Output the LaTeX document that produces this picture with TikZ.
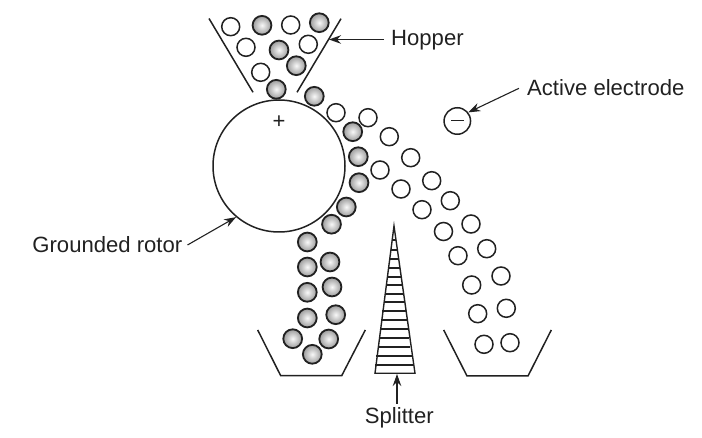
\documentclass[tikz,border=0pt]{standalone}
\usepackage{fontspec}
\setmainfont{Liberation Sans}
\usetikzlibrary{arrows.meta}
\definecolor{ink}{gray}{0.13}
\tikzset{
  x=1pt,y=-1pt,
  wall/.style={draw=ink,line width=1.5pt,line join=miter},
  wball/.style={circle,draw=ink,line width=1.5pt,fill=white,minimum size=18pt,inner sep=0pt},
  gball/.style={circle,draw=ink,line width=1.8pt,inner color=gray!5,outer color=gray!78,minimum size=18.8pt,inner sep=0pt},
  lab/.style={font=\fontsize{22.1pt}{24pt}\selectfont,text=ink,inner sep=0pt},
  pointer/.style={draw=ink,line width=1.1pt,-{Stealth[length=12pt,width=8.5pt]}},
}
\begin{document}
\begin{tikzpicture}
\useasboundingbox (0,0) rectangle (702,438);
% rotor
\node[circle,draw=ink,line width=1.5pt,minimum size=132pt,inner sep=0pt] (rotor) at (279,166) {};
\node[font=\fontsize{22pt}{24pt}\selectfont,text=ink,inner sep=0pt] (plus) at (279,122.5) {+};
% hopper
\draw[wall] (209,18.5) -- (253,92.3);
\draw[wall] (341,18.7) -- (297,92.3);
\coordinate (hopwall) at (329,39.5);
% bins
\draw[wall] (257.7,330) -- (280.7,375.7) -- (341.7,375.7) -- (365.3,330);
\draw[wall] (443.7,330) -- (467,376) -- (528,376) -- (551.3,330);
% splitter
\draw[draw=ink,line width=1.4pt,line join=miter] (394,226) -- (375,373.3) -- (415,373.3) -- cycle;
\foreach \yy in {240,250,259,268,277,285,294,302,311,320,329,338,347,356,365}{
  \pgfmathsetmacro{\hw}{(\yy-226)*20/147.3}
  \draw[draw=ink,line width=1.4pt] (394-\hw,\yy) -- (394+\hw,\yy);
}
\coordinate (splitbase) at (397,374);
% white balls
\foreach \px/\py [count=\i] in {230.7/26.7,290.7/25,246/47.3,308.3/44.3,260.7/72.3,336/112.7,368/117.7,389.3/136.7,410.7/157.7,380/170,431.7/180.7,401/189,450.3/200.7,422/209.7,471/224,443.5/231.5,486.7/248.7,458/255.7,501/276,471.7/285,506.3/308.3,477.7/313.7,484/344.3,510/342.7}{
  \node[wball] (w\i) at (\px,\py) {};
}
% grey balls
\foreach \px/\py [count=\i] in {262/25.3,319.3/22.7,279/50,296.3/65.7,276.3/89.3,314.3/96.3,352.7/131.7,358.3/156.7,359/182.7,346.3/207,331.5/224.2,307.3/242,307.3/267,330/262,307.3/292.3,332/287,307.3/318,335.7/314.7,292.7/338.7,328.7/339,312.3/354.3}{
  \node[gball] (g\i) at (\px,\py) {};
}
% electrode
\node[circle,draw=ink,line width=1.5pt,minimum size=26.5pt,inner sep=0pt] (electrode) at (457.3,121) {};
\draw[draw=ink,line width=1pt] (451,121) -- (463.5,121);
% labels
\node[lab,anchor=west] (hopper) at (391,40.5) {Hopper};
\node[lab,anchor=west] (active) at (527,88) {Active electrode};
\node[lab,anchor=east] (grounded) at (182.5,245) {Grounded rotor};
\node[lab] (splitter) at (399.3,417.5) {Splitter};
% pointers
\draw[pointer] (hopper.west)+(-7,-1) -- (hopwall);
\draw[pointer] (active.west)+(-8,0.3) -- (electrode.38);
\draw[pointer] (grounded.east)+(5,0) -- (rotor.230);
\draw[pointer] (splitter.north)+(-2.3,-3) -- (splitbase);
\end{tikzpicture}
\end{document}
